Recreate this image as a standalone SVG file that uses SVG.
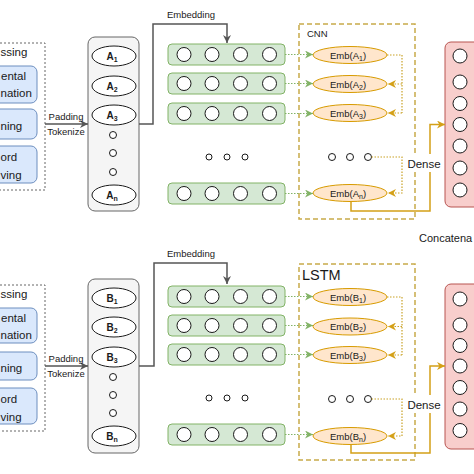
<svg xmlns="http://www.w3.org/2000/svg" width="474" height="474" viewBox="0 0 474 474">
<defs>
<style>
text{font-family:"Liberation Sans",Arial,sans-serif;fill:#1a1a1a}
.pre{fill:none;stroke:#666;stroke-width:1;stroke-dasharray:2 2}
.blue{fill:#dae8fc;stroke:#6c8ebf;stroke-width:1}
.bt{font-size:11.5px}
.seq{fill:#f5f5f5;stroke:#666;stroke-width:1}
.tok{fill:#fff;stroke:#1a1a1a;stroke-width:1}
.tt{font-size:10px;font-weight:bold;text-anchor:middle}
.sm{fill:#fff;stroke:#1a1a1a;stroke-width:1}
.row{fill:#d5e8d4;stroke:#82b366;stroke-width:1}
.emb{fill:#ffe6cc;stroke:#d79b00;stroke-width:1}
.et{font-size:9.5px;text-anchor:middle}
.box{fill:none;stroke:#c8ab4a;stroke-width:1.5;stroke-dasharray:5 3}
.pink{fill:#f8cecc;stroke:#b85450;stroke-width:1}
.gray{fill:none;stroke:#555;stroke-width:1.5}
.gdot{fill:none;stroke:#82b366;stroke-width:1.2;stroke-dasharray:1.5 1.5}
.odot{fill:none;stroke:#c9a227;stroke-width:1.2;stroke-dasharray:1.5 1.5}
.osol{fill:none;stroke:#d4a017;stroke-width:1.5}
.lbl{font-size:9.5px;text-anchor:middle}
</style>
<marker id="ag" viewBox="0 0 10 10" refX="10" refY="5" markerWidth="8" markerHeight="8" markerUnits="userSpaceOnUse" orient="auto"><path d="M0,0 L10,5 L0,10 L3,5 Z" fill="#555"/></marker>
<marker id="agr" viewBox="0 0 10 10" refX="10" refY="5" markerWidth="8" markerHeight="8" markerUnits="userSpaceOnUse" orient="auto"><path d="M0,0 L10,5 L0,10 L3,5 Z" fill="#82b366"/></marker>
<marker id="ao" viewBox="0 0 10 10" refX="10" refY="5" markerWidth="8" markerHeight="8" markerUnits="userSpaceOnUse" orient="auto"><path d="M0,0 L10,5 L0,10 L3,5 Z" fill="#d4a017"/></marker>
</defs>

<!-- ===== TOP PANEL ===== -->
<g id="preprocess-top">
<rect class="pre" x="-60" y="43" width="105" height="147"/>
<text class="bt" x="0.5" y="56">ssing</text>
<rect class="blue" x="-60" y="66" width="97" height="37" rx="6"/>
<text class="bt" x="1" y="80">ental</text>
<text class="bt" x="0.5" y="97">nation</text>
<rect class="blue" x="-60" y="109" width="97" height="30" rx="6"/>
<text class="bt" x="0.5" y="130">ning</text>
<rect class="blue" x="-60" y="146" width="97" height="37" rx="6"/>
<text class="bt" x="0.5" y="161">ord</text>
<text class="bt" x="0.5" y="179">ving</text>
</g>

<g id="tokens-top">
<rect class="seq" x="88" y="37" width="51" height="174" rx="7"/>
<ellipse class="tok" cx="114" cy="56" rx="22" ry="10"/>
<text class="tt" x="112" y="60">A<tspan dy="2" font-size="7">1</tspan></text>
<ellipse class="tok" cx="114" cy="86" rx="22" ry="10"/>
<text class="tt" x="112" y="90">A<tspan dy="2" font-size="7">2</tspan></text>
<ellipse class="tok" cx="114" cy="115" rx="22" ry="10"/>
<text class="tt" x="112" y="119">A<tspan dy="2" font-size="7">3</tspan></text>
<circle class="sm" cx="113" cy="135" r="3.5"/>
<circle class="sm" cx="113" cy="153" r="3.5"/>
<circle class="sm" cx="113" cy="172" r="3.5"/>
<ellipse class="tok" cx="114" cy="195" rx="22" ry="10"/>
<text class="tt" x="112" y="199">A<tspan dy="2" font-size="7">n</tspan></text>
</g>

<g id="embed-top">
<rect class="row" x="168" y="44" width="117" height="21" rx="4"/>
<rect class="row" x="168" y="73" width="117" height="21" rx="4"/>
<rect class="row" x="168" y="103" width="117" height="21" rx="4"/>
<rect class="row" x="168" y="183" width="117" height="21" rx="4"/>
<g class="sm">
<circle cx="184" cy="54.5" r="7"/><circle cx="212" cy="54.5" r="7"/><circle cx="240.5" cy="54.5" r="7"/><circle cx="269.5" cy="54.5" r="7"/>
<circle cx="184" cy="83.5" r="7"/><circle cx="212" cy="83.5" r="7"/><circle cx="240.5" cy="83.5" r="7"/><circle cx="269.5" cy="83.5" r="7"/>
<circle cx="184" cy="113.5" r="7"/><circle cx="212" cy="113.5" r="7"/><circle cx="240.5" cy="113.5" r="7"/><circle cx="269.5" cy="113.5" r="7"/>
<circle cx="184" cy="193.5" r="7"/><circle cx="212" cy="193.5" r="7"/><circle cx="240.5" cy="193.5" r="7"/><circle cx="269.5" cy="193.5" r="7"/>
<circle cx="209" cy="157" r="3"/><circle cx="227" cy="157" r="3"/><circle cx="245" cy="157" r="3"/>
</g>
</g>

<g id="cnn">
<rect class="box" x="299" y="24" width="116" height="195"/>
<text x="307" y="37" font-size="9.5">CNN</text>
<ellipse class="emb" cx="350" cy="55" rx="37" ry="8.5"/>
<text class="et" x="348" y="58.5">Emb(A<tspan dy="2" font-size="7">1</tspan><tspan dy="-2">)</tspan></text>
<ellipse class="emb" cx="350" cy="84" rx="37" ry="8.5"/>
<text class="et" x="348" y="87.5">Emb(A<tspan dy="2" font-size="7">2</tspan><tspan dy="-2">)</tspan></text>
<ellipse class="emb" cx="350" cy="113" rx="37" ry="8.5"/>
<text class="et" x="348" y="116.5">Emb(A<tspan dy="2" font-size="7">3</tspan><tspan dy="-2">)</tspan></text>
<circle class="sm" cx="332" cy="157" r="3.5"/><circle class="sm" cx="350" cy="157" r="3.5"/><circle class="sm" cx="368" cy="157" r="3.5"/>
<ellipse class="emb" cx="350" cy="193" rx="37" ry="8.5"/>
<text class="et" x="348" y="196.5">Emb(A<tspan dy="2" font-size="7">n</tspan><tspan dy="-2">)</tspan></text>
</g>

<g id="concat-top">
<rect class="pink" x="445" y="42" width="40" height="165" rx="6"/>
<g class="sm">
<circle cx="460" cy="56" r="7"/><circle cx="460" cy="82" r="7"/><circle cx="460" cy="103.5" r="7"/><circle cx="460" cy="124.5" r="7"/><circle cx="460" cy="146" r="7"/><circle cx="460" cy="168" r="7"/><circle cx="460" cy="190" r="7"/>
</g>
</g>

<g id="connectors-top">
<path class="gray" d="M45,124 H88" marker-end="url(#ag)"/>
<text class="lbl" x="66" y="120">Padding</text>
<text class="lbl" x="66" y="135">Tokenize</text>
<path class="gray" d="M139,124 H153 V24 H227 V43" marker-end="url(#ag)"/>
<text class="lbl" x="191" y="18" font-size="9">Embedding</text>
<path class="gdot" d="M285,54.5 H313" marker-end="url(#agr)"/>
<path class="gdot" d="M285,83.5 H313" marker-end="url(#agr)"/>
<path class="gdot" d="M285,113.5 H313" marker-end="url(#agr)"/>
<path class="gdot" d="M285,193.5 H313" marker-end="url(#agr)"/>
<path class="odot" d="M387,55 H402 V113"/>
<path class="odot" d="M402,84 H388" marker-end="url(#ao)"/>
<path class="odot" d="M402,113 H388" marker-end="url(#ao)"/>
<path class="odot" d="M371.5,157 H402 V193 H388" marker-end="url(#ao)"/>
<path class="osol" d="M351,201.5 V211 H430 V124.5 H445" marker-end="url(#ao)"/>
<rect x="406" y="154" width="36" height="18" fill="#fff"/>
<text x="424" y="167.5" font-size="11.5" text-anchor="middle">Dense</text>
</g>

<text x="419" y="242" font-size="11">Concatena</text>

<!-- ===== BOTTOM PANEL ===== -->
<g id="preprocess-bottom" transform="translate(0,242)">
<rect class="pre" x="-60" y="43" width="105" height="146"/>
<text class="bt" x="0.5" y="56">ssing</text>
<rect class="blue" x="-60" y="66" width="97" height="35" rx="6"/>
<text class="bt" x="1" y="80">ental</text>
<text class="bt" x="0.5" y="97">nation</text>
<rect class="blue" x="-60" y="110" width="97" height="28" rx="6"/>
<text class="bt" x="0.5" y="130">ning</text>
<rect class="blue" x="-60" y="146" width="97" height="36" rx="6"/>
<text class="bt" x="0.5" y="161">ord</text>
<text class="bt" x="0.5" y="179">ving</text>
</g>

<g id="tokens-bottom" transform="translate(0,242)">
<rect class="seq" x="88" y="37" width="51" height="174" rx="7"/>
<ellipse class="tok" cx="114" cy="56" rx="22" ry="10"/>
<text class="tt" x="112" y="60">B<tspan dy="2" font-size="7">1</tspan></text>
<ellipse class="tok" cx="114" cy="85" rx="22" ry="10"/>
<text class="tt" x="112" y="89">B<tspan dy="2" font-size="7">2</tspan></text>
<ellipse class="tok" cx="114" cy="115" rx="22" ry="10"/>
<text class="tt" x="112" y="119">B<tspan dy="2" font-size="7">3</tspan></text>
<circle class="sm" cx="113" cy="135" r="3.5"/>
<circle class="sm" cx="113" cy="153" r="3.5"/>
<circle class="sm" cx="113" cy="171" r="3.5"/>
<ellipse class="tok" cx="114" cy="194" rx="22" ry="10"/>
<text class="tt" x="112" y="198">B<tspan dy="2" font-size="7">n</tspan></text>
</g>

<g id="embed-bottom" transform="translate(0,242)">
<rect class="row" x="168" y="44" width="117" height="21" rx="4"/>
<rect class="row" x="168" y="73" width="117" height="21" rx="4"/>
<rect class="row" x="168" y="102" width="117" height="21" rx="4"/>
<rect class="row" x="168" y="182" width="117" height="21" rx="4"/>
<g class="sm">
<circle cx="184" cy="54.5" r="7"/><circle cx="212" cy="54.5" r="7"/><circle cx="240.5" cy="54.5" r="7"/><circle cx="269.5" cy="54.5" r="7"/>
<circle cx="184" cy="83.5" r="7"/><circle cx="212" cy="83.5" r="7"/><circle cx="240.5" cy="83.5" r="7"/><circle cx="269.5" cy="83.5" r="7"/>
<circle cx="184" cy="112.5" r="7"/><circle cx="212" cy="112.5" r="7"/><circle cx="240.5" cy="112.5" r="7"/><circle cx="269.5" cy="112.5" r="7"/>
<circle cx="184" cy="192.5" r="7"/><circle cx="212" cy="192.5" r="7"/><circle cx="240.5" cy="192.5" r="7"/><circle cx="269.5" cy="192.5" r="7"/>
<circle cx="209" cy="156" r="3"/><circle cx="227" cy="156" r="3"/><circle cx="245" cy="156" r="3"/>
</g>
</g>

<g id="lstm" transform="translate(0,242)">
<rect class="box" x="299" y="22" width="116" height="196"/>
<text x="302" y="38" font-size="14.5">LSTM</text>
<ellipse class="emb" cx="350" cy="55" rx="37" ry="8.5"/>
<text class="et" x="348" y="58.5">Emb(B<tspan dy="2" font-size="7">1</tspan><tspan dy="-2">)</tspan></text>
<ellipse class="emb" cx="350" cy="84.5" rx="37" ry="8.5"/>
<text class="et" x="348" y="88">Emb(B<tspan dy="2" font-size="7">2</tspan><tspan dy="-2">)</tspan></text>
<ellipse class="emb" cx="350" cy="113" rx="37" ry="8.5"/>
<text class="et" x="348" y="116.5">Emb(B<tspan dy="2" font-size="7">3</tspan><tspan dy="-2">)</tspan></text>
<circle class="sm" cx="332" cy="157" r="3.5"/><circle class="sm" cx="350" cy="157" r="3.5"/><circle class="sm" cx="368" cy="157" r="3.5"/>
<ellipse class="emb" cx="350" cy="194" rx="37" ry="8.5"/>
<text class="et" x="348" y="197.5">Emb(B<tspan dy="2" font-size="7">n</tspan><tspan dy="-2">)</tspan></text>
</g>

<g id="concat-bottom" transform="translate(0,242)">
<rect class="pink" x="445" y="42" width="40" height="165" rx="6"/>
<g class="sm">
<circle cx="460" cy="57" r="7"/><circle cx="460" cy="83" r="7"/><circle cx="460" cy="103.5" r="7"/><circle cx="460" cy="124" r="7"/><circle cx="460" cy="145.5" r="7"/><circle cx="460" cy="167" r="7"/><circle cx="460" cy="188.5" r="7"/>
</g>
</g>

<g id="connectors-bottom" transform="translate(0,242)">
<path class="gray" d="M45,124 H88" marker-end="url(#ag)"/>
<text class="lbl" x="66" y="120">Padding</text>
<text class="lbl" x="66" y="135">Tokenize</text>
<path class="gray" d="M139,124 H154 V21 H227 V42" marker-end="url(#ag)"/>
<text class="lbl" x="191" y="15" font-size="9">Embedding</text>
<path class="gdot" d="M285,54.5 H313" marker-end="url(#agr)"/>
<path class="gdot" d="M285,83.5 H313" marker-end="url(#agr)"/>
<path class="gdot" d="M285,112.5 H313" marker-end="url(#agr)"/>
<path class="gdot" d="M285,192.5 H313" marker-end="url(#agr)"/>
<path class="odot" d="M387,55 H402 V113"/>
<path class="odot" d="M402,84.5 H388" marker-end="url(#ao)"/>
<path class="odot" d="M402,113 H388" marker-end="url(#ao)"/>
<path class="odot" d="M371.5,157 H402 V194 H388" marker-end="url(#ao)"/>
<path class="osol" d="M351,202.5 V211 H430 V124 H445" marker-end="url(#ao)"/>
<rect x="406" y="153" width="36" height="18" fill="#fff"/>
<text x="424" y="166.5" font-size="11.5" text-anchor="middle">Dense</text>
</g>
</svg>
